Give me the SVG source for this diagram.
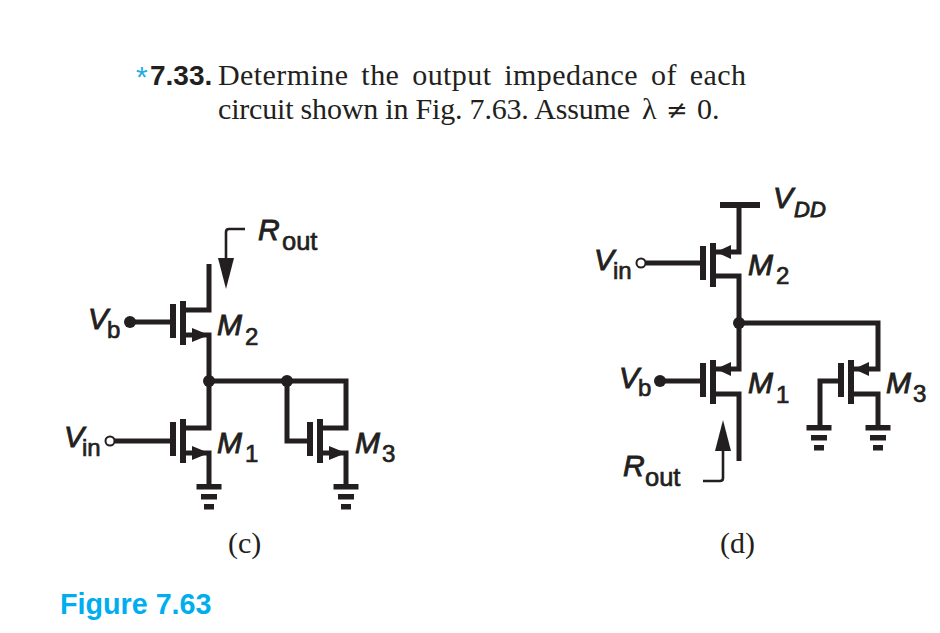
<svg xmlns="http://www.w3.org/2000/svg" width="940" height="633" viewBox="0 0 940 633">
<style>
.w{fill:none;stroke:#231f20;stroke-width:5}
.t{fill:none;stroke:#231f20;stroke-width:2.6}
.f{fill:#231f20}
.s{font-family:"Liberation Serif",serif;font-size:30px;fill:#231f20}
.i{font-family:"Liberation Sans",Arial,sans-serif;font-style:italic;font-size:30px;fill:#231f20;stroke:#231f20;stroke-width:.9}
.m{font-family:"Liberation Sans",Arial,sans-serif;font-size:24px;fill:#231f20;stroke:#231f20;stroke-width:.7}
</style>
<defs>
<g id="gnd" class="f"><rect x="-12.5" y="0" width="25" height="5.5"/><rect x="-8" y="10" width="16" height="5.5"/><rect x="-5" y="20" width="10" height="5.5"/></g>
<g id="plates" class="f"><rect x="0" y="3" width="6" height="34"/><rect x="10" y="0" width="6" height="44"/></g>
<path id="hr" class="f" d="M0-7 L17 0 L0 7Z"/>
<path id="hl" class="f" d="M0 0 L15-7 L15 7Z"/>
</defs>

<g id="header">
<text x="136" y="87" font-family="Liberation Sans,sans-serif" font-size="30" fill="#29abe2">*</text>
<text x="150" y="85" font-family="Liberation Sans,sans-serif" font-size="28" font-weight="bold" fill="#231f20">7.33.</text>
<text class="s" x="218" y="85" textLength="528" word-spacing="5">Determine the output impedance of each</text>
<text class="s" x="218" y="119" textLength="412">circuit shown in Fig. 7.63. Assume</text>
<text class="s" x="642" y="119">λ</text>
<text x="666" y="119" font-family="DejaVu Serif,serif" font-size="26" fill="#231f20">≠</text>
<text class="s" x="697" y="119">0.</text>
</g>

<g id="connectors">
<!-- circuit c -->
<path class="w" d="M130 322H170"/>
<path class="w" d="M115 441H170"/>
<path class="w" d="M209 264V310H185"/>
<path class="w" d="M185 335H209V428H185"/>
<path class="w" d="M185 453H209V485"/>
<path class="w" d="M209 381H346V428H323"/>
<path class="w" d="M287 381V441H307"/>
<path class="w" d="M323 453H346V485"/>
<path class="t" d="M245 229H229Q226 229 226 232V262"/>
<path class="f" d="M218 258H234L226 289Z"/>
<!-- circuit d -->
<path class="w" d="M739 205V252H716"/>
<path class="w" d="M646 263H700"/>
<path class="w" d="M716 276H739V369H716"/>
<path class="w" d="M716 394H739V461"/>
<path class="w" d="M739 323H878V369H854"/>
<path class="w" d="M660 381H700"/>
<path class="w" d="M838 381H820V427"/>
<path class="w" d="M854 394H878V427"/>
<path class="t" d="M703 481H720Q723 481 723 478V448"/>
<path class="f" d="M715 451H731L723 420Z"/>
</g>

<g id="c-M2">
<use href="#plates" x="170" y="301"/><use href="#hr" x="192" y="335"/>
<text class="i" x="217" y="335">M</text><text class="m" x="245" y="345">2</text>
</g>
<g id="c-M1">
<use href="#plates" x="170" y="419"/><use href="#hr" x="192" y="453"/>
<text class="i" x="217" y="453">M</text><text class="m" x="245" y="462">1</text>
</g>
<g id="c-M3">
<use href="#plates" x="307" y="419"/><use href="#hr" x="329" y="453"/>
<text class="i" x="355" y="453">M</text><text class="m" x="382" y="462">3</text>
</g>
<g id="c-Vb">
<circle class="f" cx="130" cy="322" r="6"/>
<text class="i" x="88" y="329">V</text><text class="m" x="107" y="338">b</text>
</g>
<g id="c-Vin">
<circle cx="110" cy="441" r="4.5" fill="#fff" stroke="#231f20" stroke-width="2"/>
<text class="i" x="64" y="447">V</text><text class="m" x="82" y="456">in</text>
</g>
<g id="c-junctions" class="f"><circle cx="209" cy="381" r="6"/><circle cx="287" cy="381" r="6"/></g>
<g id="c-gnd1"><use href="#gnd" x="209" y="484"/></g>
<g id="c-gnd3"><use href="#gnd" x="346" y="484"/></g>
<g id="c-Rout">
<text class="i" x="258" y="240">R</text><text class="m" x="282" y="250" style="font-size:25.5px">out</text>
</g>
<g id="c-caption"><text class="s" x="228" y="553">(c)</text></g>

<g id="d-VDD">
<rect class="f" x="720" y="202" width="40" height="6"/>
<text class="i" x="773" y="208">V</text><text class="i" x="794" y="217" style="font-size:22px">DD</text>
</g>
<g id="d-M2">
<use href="#plates" x="700" y="243"/><use href="#hl" x="716" y="252"/>
<text class="i" x="748" y="275">M</text><text class="m" x="776" y="284">2</text>
</g>
<g id="d-M1">
<use href="#plates" x="700" y="360"/><use href="#hl" x="716" y="369"/>
<text class="i" x="748" y="393">M</text><text class="m" x="776" y="403">1</text>
</g>
<g id="d-M3">
<use href="#plates" x="838" y="360"/><use href="#hl" x="854" y="369"/>
<text class="i" x="886" y="393">M</text><text class="m" x="913" y="402">3</text>
</g>
<g id="d-Vin">
<circle cx="641" cy="263" r="4.5" fill="#fff" stroke="#231f20" stroke-width="2"/>
<text class="i" x="594" y="270">V</text><text class="m" x="613" y="279">in</text>
</g>
<g id="d-Vb">
<circle class="f" cx="660" cy="381" r="6"/>
<text class="i" x="619" y="388">V</text><text class="m" x="638" y="396">b</text>
</g>
<g id="d-junction"><circle class="f" cx="739" cy="323" r="6"/></g>
<g id="d-gndG"><use href="#gnd" x="819" y="425"/></g>
<g id="d-gndS"><use href="#gnd" x="878" y="425"/></g>
<g id="d-Rout">
<text class="i" x="623" y="476">R</text><text class="m" x="645" y="486" style="font-size:25.5px">out</text>
</g>
<g id="d-caption"><text class="s" x="720" y="553">(d)</text></g>

<g id="figure-label"><text x="60" y="614" font-family="Liberation Sans,sans-serif" font-size="28.7" font-weight="bold" fill="#00aeef">Figure 7.63</text></g>
</svg>
